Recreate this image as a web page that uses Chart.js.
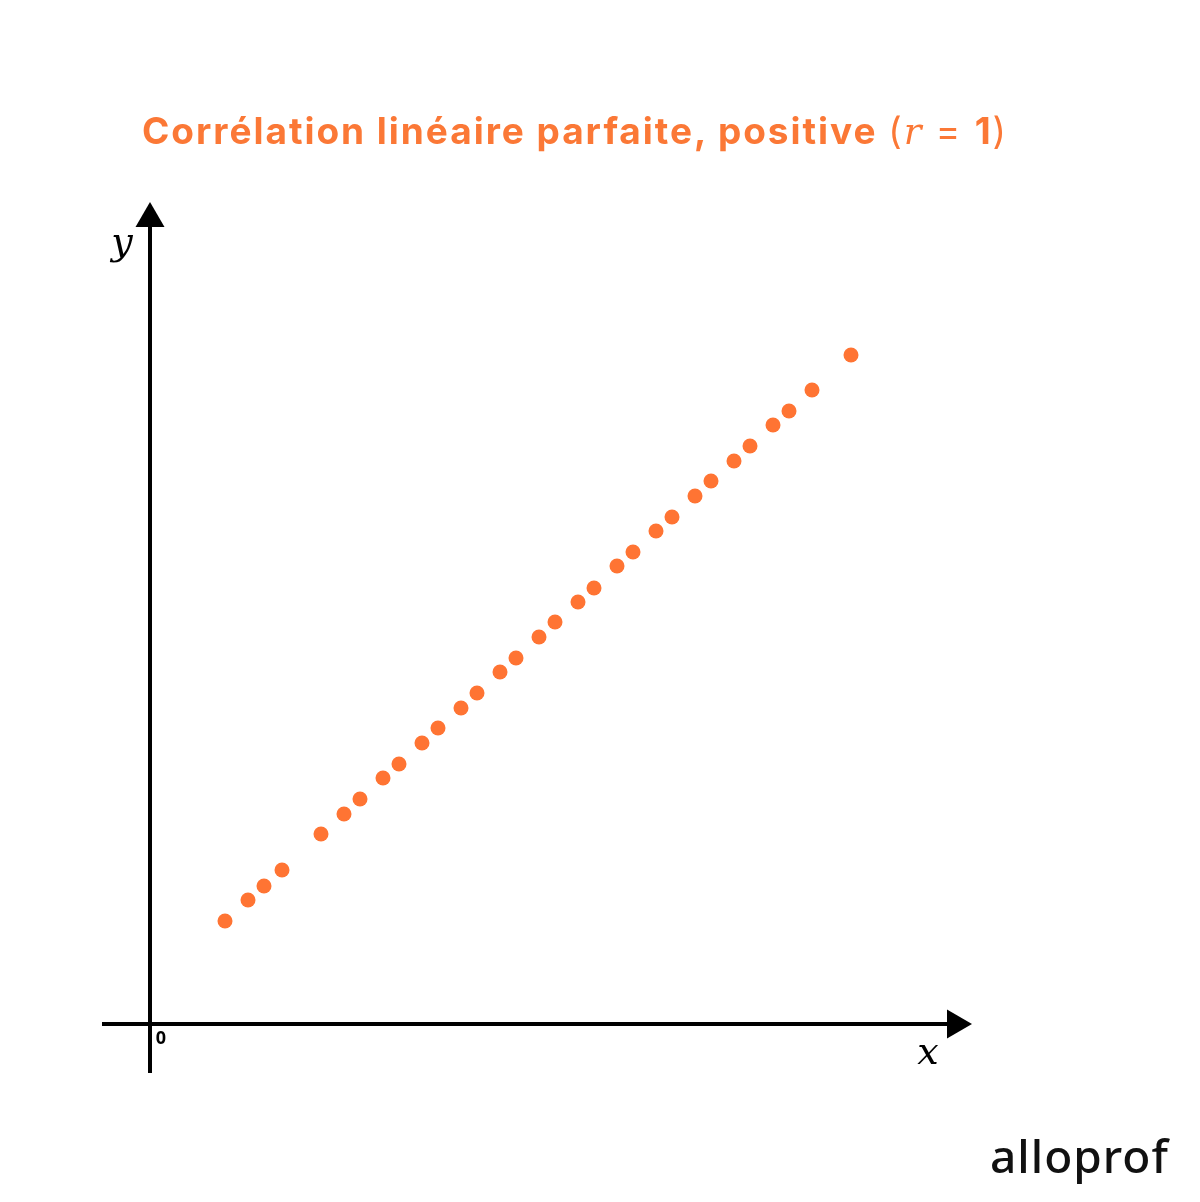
<!DOCTYPE html>
<html>
<head>
<meta charset="utf-8">
<script src="https://cdn.jsdelivr.net/npm/chart.js@4"></script>
<style>
html,body{margin:0;padding:0;background:#fff;}
#wrap{position:relative;width:1200px;height:1202px;overflow:hidden;}
#title{position:absolute;left:142px;top:108px;font-family:Inter,'Noto Sans',sans-serif;font-weight:700;font-size:37px;color:#FB7836;white-space:nowrap;}
#title .m{font-family:'DejaVu Serif','Liberation Serif',serif;font-style:italic;font-weight:400;}
#title .n{font-weight:400;}
#logo{position:absolute;left:990px;top:1124px;font-family:'Noto Sans',sans-serif;font-weight:500;font-size:46px;color:#111;letter-spacing:1px;}
canvas{position:absolute;left:0;top:0;}
</style>
</head>
<body>
<div id="wrap">
<canvas id="c" width="1200" height="1202"></canvas>
<div id="title">Corrélation linéaire parfaite, positive <span class="n">(</span><span class="m">r</span><span class="n"> = </span>1<span class="n">)</span></div>
<div id="logo">alloprof</div>
</div>
<script>
const xValues = [7.5, 9.8, 11.4, 13.2, 17.1, 19.4, 21.0, 23.3, 24.9, 27.2, 28.8, 31.1, 32.7, 35.0, 36.6, 38.9, 40.5, 42.8, 44.4, 46.7, 48.3, 50.6, 52.2, 54.5, 56.1, 58.4, 60.0, 62.3, 63.9, 66.2, 70.1];
const yValues = [10.3, 12.4, 13.8, 15.4, 19.0, 21.0, 22.5, 24.6, 26.0, 28.1, 29.6, 31.6, 33.1, 35.2, 36.6, 38.7, 40.2, 42.2, 43.6, 45.8, 47.2, 49.3, 50.7, 52.8, 54.3, 56.3, 57.8, 59.9, 61.3, 63.4, 66.9];
const xRange = [-4.8, 82.2];
const yRange = [-4.9, 82.2];
const axisLabels = {x: 'x', y: 'y', origin: '0'};

// fit title width to reference span
(function(){
  const t = document.getElementById('title');
  const target = 866;
  const w = t.getBoundingClientRect().width;
  const n = t.textContent.length;
  t.style.letterSpacing = ((target - w) / n).toFixed(2) + 'px';
})();

const points = xValues.map((x, i) => ({x: x, y: yValues[i]}));

const axesPlugin = {
  id: 'customAxes',
  beforeDatasetsDraw(chart) {
    const ctx = chart.ctx;
    const xs = chart.scales.x, ys = chart.scales.y;
    const x0 = xs.getPixelForValue(0), y0 = ys.getPixelForValue(0);
    const xL = xs.getPixelForValue(xRange[0]), xR = xs.getPixelForValue(xRange[1]);
    const yB = ys.getPixelForValue(yRange[0]), yT = ys.getPixelForValue(yRange[1]);
    ctx.save();
    ctx.strokeStyle = '#000';
    ctx.fillStyle = '#000';
    ctx.lineWidth = 4;
    ctx.lineCap = 'butt';
    ctx.beginPath();
    ctx.moveTo(xL, y0);
    ctx.lineTo(xR - 20, y0);
    ctx.stroke();
    ctx.beginPath();
    ctx.moveTo(xR, y0);
    ctx.lineTo(xR - 25, y0 - 14.5);
    ctx.lineTo(xR - 25, y0 + 14.5);
    ctx.closePath();
    ctx.fill();
    ctx.beginPath();
    ctx.moveTo(x0, yB);
    ctx.lineTo(x0, yT + 20);
    ctx.stroke();
    ctx.beginPath();
    ctx.moveTo(x0, yT);
    ctx.lineTo(x0 - 14.5, yT + 25);
    ctx.lineTo(x0 + 14.5, yT + 25);
    ctx.closePath();
    ctx.fill();
    ctx.textAlign = 'center';
    ctx.textBaseline = 'middle';
    ctx.font = 'italic 38px "DejaVu Serif", "Liberation Serif", serif';
    ctx.fillText(axisLabels.y, x0 - 28, yT + 42);
    ctx.fillText(axisLabels.x, xR - 44, y0 + 30);
    ctx.font = 'bold 18px "Noto Sans", sans-serif';
    ctx.fillText(axisLabels.origin, x0 + 11, y0 + 15);
    ctx.restore();
  }
};

new Chart(document.getElementById('c'), {
  type: 'scatter',
  data: {
    datasets: [{
      data: points,
      backgroundColor: '#FF7433',
      borderColor: '#FF7433',
      borderWidth: 0,
      pointRadius: 7.5,
      pointHoverRadius: 7.5
    }]
  },
  options: {
    responsive: false,
    animation: false,
    devicePixelRatio: 1,
    layout: {padding: {left: 102, right: 228, top: 202, bottom: 129}},
    plugins: {legend: {display: false}, title: {display: false}, tooltip: {enabled: false}},
    scales: {
      x: {type: 'linear', min: xRange[0], max: xRange[1], display: false},
      y: {type: 'linear', min: yRange[0], max: yRange[1], display: false}
    }
  },
  plugins: [axesPlugin]
});
</script>
</body>
</html>
